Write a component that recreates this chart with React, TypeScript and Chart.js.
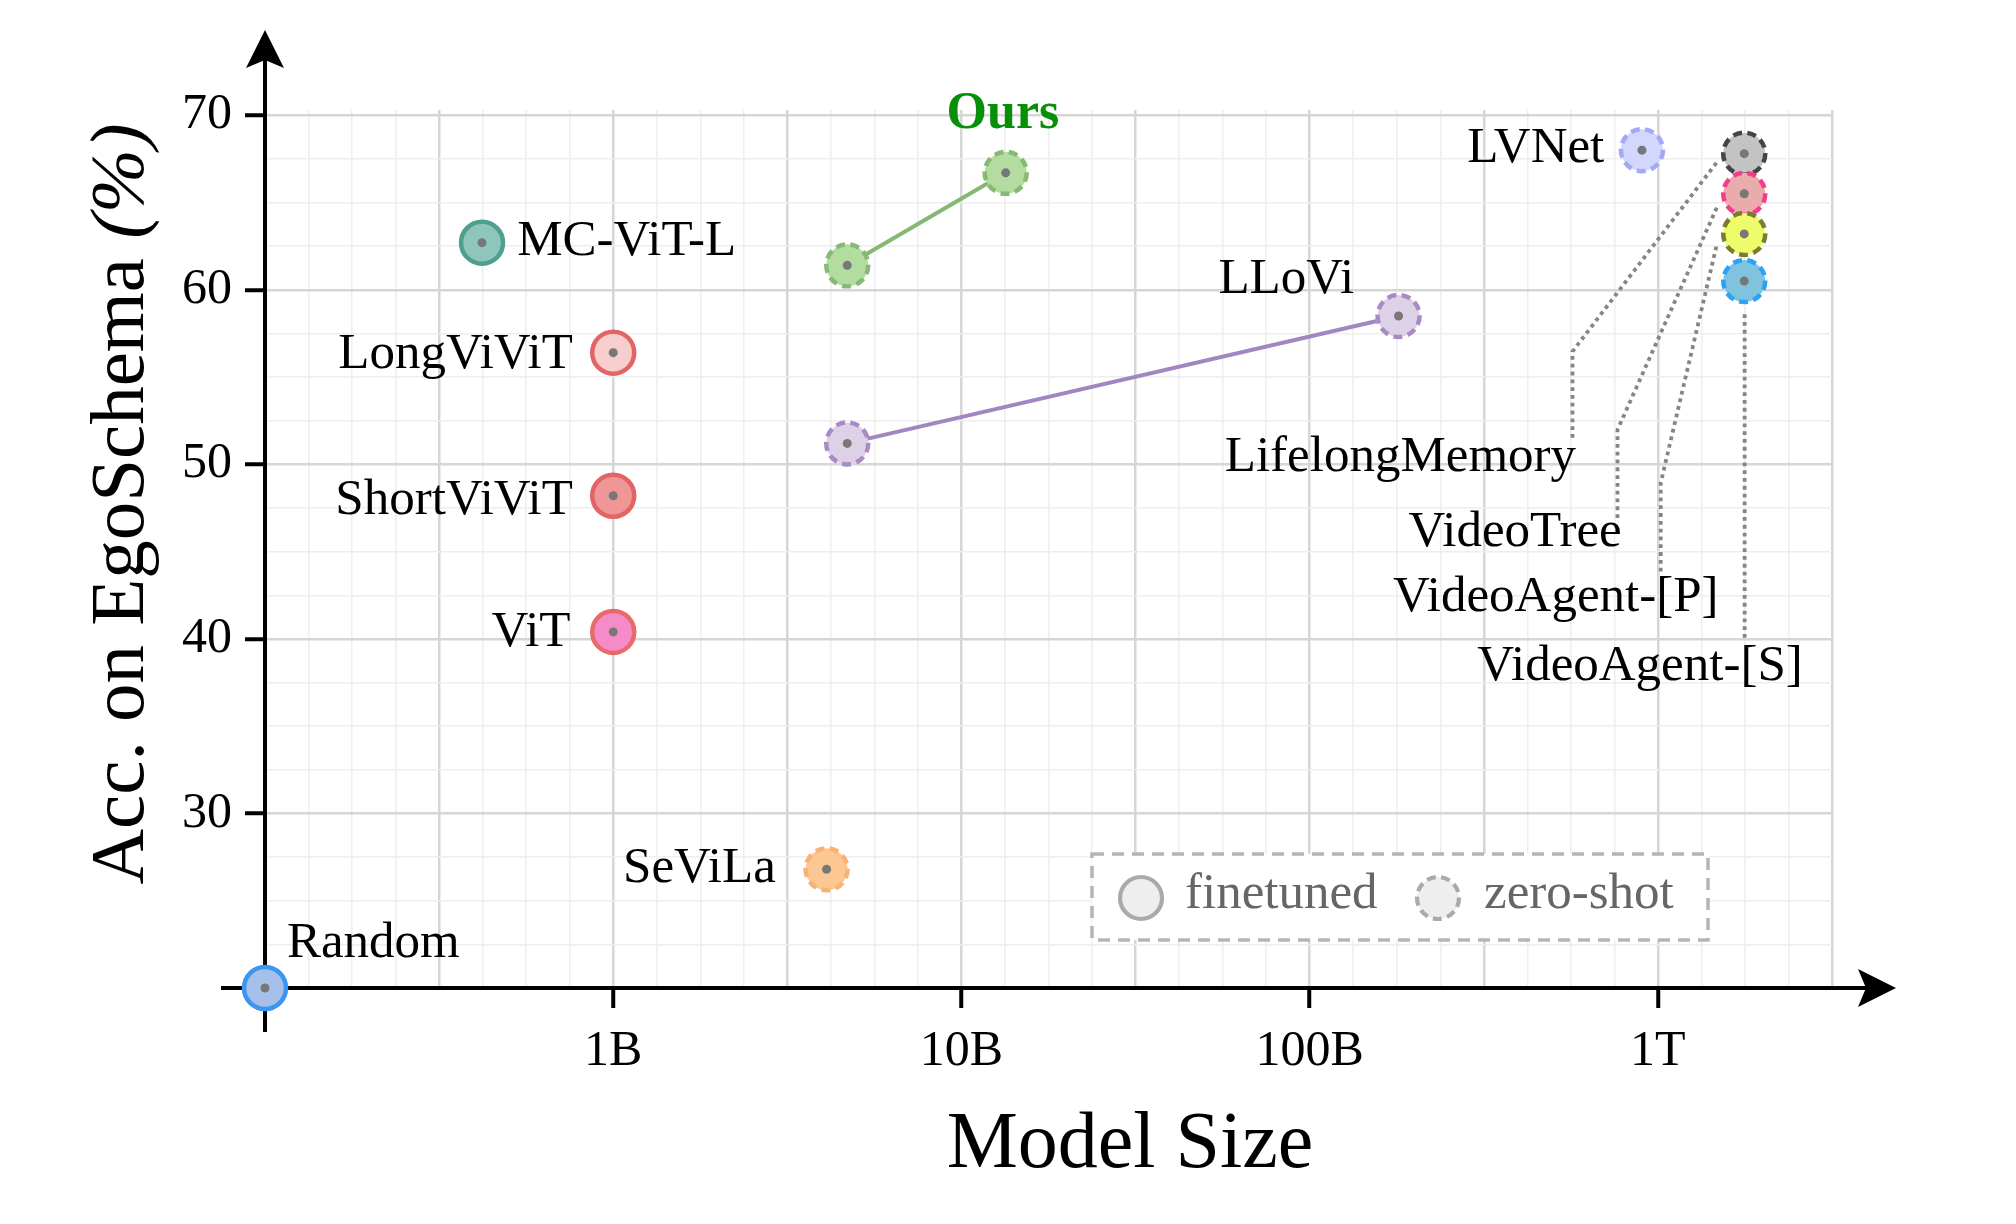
import React, { useEffect, useRef } from 'react';
import { Chart, registerables } from 'chart.js';

Chart.register(...registerables);

const W = 2016;
const H = 1224;
const SERIF = "'Liberation Serif', 'Times New Roman', Times, serif";

// ---------------- data ----------------
const modelNames = [
  'Random', 'MC-ViT-L', 'LongViViT', 'ShortViViT', 'ViT', 'SeViLa',
  'Ours (small)', 'Ours (large)', 'LLoVi (small)', 'LLoVi (large)', 'LVNet',
  'LifelongMemory', 'VideoTree', 'VideoAgent-[P]', 'VideoAgent-[S]',
];
// model size in billions of parameters
const modelSizeB = [0.1, 0.42, 1, 1, 1, 4.1, 4.7, 13.4, 4.7, 180, 900, 1770, 1770, 1770, 1770];
// accuracy on EgoSchema (%)
const accuracy = [20.0, 62.7, 56.4, 48.2, 40.4, 26.8, 61.4, 66.7, 51.2, 58.5, 68.0, 67.8, 65.5, 63.2, 60.5];
const isZeroShot = [false, false, false, false, false, true, true, true, true, true, true, true, true, true, true];

// styles
const markerFill = [
  '#a6c0ea', '#8fc6bc', '#f7cdcd', '#ef9696', '#f68bc9', '#fcc792',
  '#b3dca0', '#b3dca0', '#ddd1e7', '#ddd1e7', '#d3d6fd',
  '#c3c3c3', '#e9abab', '#eefc6c', '#80c3df',
];
const markerBorder = [
  '#3a95f3', '#4e9f90', '#e26565', '#e26565', '#e86a6a', '#f9b272',
  '#87b975', '#87b975', '#a98ac4', '#a98ac4', '#a3a9f5',
  '#454545', '#f43b8c', '#7c7c30', '#2ba2f5',
];

const connections = [
  { from: 6, to: 7, color: '#86b874' },
  { from: 8, to: 9, color: '#a385c2' },
];

// axes ticks
const xTickValues = [1, 10, 100, 1000];
const xTickLabels = ['1B', '10B', '100B', '1T'];
const yTickValues = [30, 40, 50, 60, 70];

// annotations (data coordinates: size in B, accuracy)
const labelTexts = ['Random', 'MC-ViT-L', 'LongViViT', 'ShortViViT', 'ViT', 'SeViLa', 'LLoVi', 'LVNet', 'LifelongMemory', 'VideoTree', 'VideoAgent-[P]', 'VideoAgent-[S]'];
const labelAnchorX = [0.1156, 0.53, 0.766, 0.766, 0.754, 2.93, 54.7, 701.5, 582, 787, 1493, 2606];
const labelAnchorY = [21.78, 62.0, 55.53, 47.16, 39.58, 26.07, 59.81, 67.3, 49.59, 45.31, 41.58, 37.63];
const labelAlign: CanvasTextAlign[] = ['left', 'left', 'right', 'right', 'right', 'right', 'left', 'right', 'right', 'right', 'right', 'right'];
const oursLabel = { text: 'Ours', x: 13.15, y: 69.28 };

const leaderPaths: number[][][] = [
  [[568.5, 51.52], [568.5, 56.46], [1476, 67.3]],
  [[765.6, 46.93], [765.6, 51.98], [1489, 64.87]],
  [[1019, 43.86], [1019, 48.94], [1476, 62.58]],
  [[1775, 40.06], [1775, 58.68]],
];

// grid positions: 8 subdivisions per decade (x), every 2.5 (y)
const xGrid: number[] = Array.from({ length: 37 }, (_, k) => Math.pow(10, -1 + k / 8));
const yGrid: number[] = Array.from({ length: 21 }, (_, k) => 20 + 2.5 * k);

const MAJOR = '#d6d6d6';
const MINOR = '#eeeeee';

const sameLog = (a: number, b: number) => Math.abs(Math.log10(a) - Math.log10(b)) < 1e-6;

const overlayPlugin = {
  id: 'overlay',
  beforeDatasetsDraw(chart: any) {
    const { ctx, chartArea: ca, scales } = chart;
    const xs = scales.x;
    const ys = scales.y;
    // leader lines
    ctx.save();
    ctx.strokeStyle = '#858585';
    ctx.lineWidth = 3.8;
    ctx.setLineDash([3.8, 4]);
    leaderPaths.forEach((path) => {
      ctx.beginPath();
      path.forEach(([vx, vy], j) => {
        const px = xs.getPixelForValue(vx);
        const py = ys.getPixelForValue(vy);
        if (j === 0) ctx.moveTo(px, py);
        else ctx.lineTo(px, py);
      });
      ctx.stroke();
    });
    ctx.restore();

    // axes with arrows
    ctx.save();
    ctx.strokeStyle = '#000';
    ctx.fillStyle = '#000';
    ctx.lineWidth = 4;
    const ox = ca.left;
    const oy = ca.bottom;
    const xTip = ca.right + 64;
    const yTip = ca.top - 80;
    ctx.beginPath();
    ctx.moveTo(ox - 44, oy);
    ctx.lineTo(xTip - 20, oy);
    ctx.moveTo(ox, oy + 44);
    ctx.lineTo(ox, yTip + 20);
    ctx.stroke();
    ctx.beginPath();
    ctx.moveTo(xTip, oy);
    ctx.lineTo(xTip - 38, oy - 19);
    ctx.lineTo(xTip - 30, oy);
    ctx.lineTo(xTip - 38, oy + 19);
    ctx.closePath();
    ctx.fill();
    ctx.beginPath();
    ctx.moveTo(ox, yTip);
    ctx.lineTo(ox - 19, yTip + 38);
    ctx.lineTo(ox, yTip + 30);
    ctx.lineTo(ox + 19, yTip + 38);
    ctx.closePath();
    ctx.fill();
    ctx.restore();
  },
  beforeDatasetDraw(chart: any, args: any) {
    const ds = chart.data.datasets[args.index];
    chart.ctx.save();
    chart.ctx.setLineDash(ds.markerDash || []);
  },
  afterDatasetDraw(chart: any) {
    chart.ctx.restore();
  },
  afterDatasetsDraw(chart: any) {
    const { ctx, chartArea: ca, scales } = chart;
    const xs = scales.x;
    const ys = scales.y;
    ctx.save();
    // point labels
    ctx.fillStyle = '#000';
    ctx.font = `51px ${SERIF}`;
    ctx.textBaseline = 'alphabetic';
    labelTexts.forEach((t, i) => {
      ctx.textAlign = labelAlign[i];
      ctx.fillText(t, xs.getPixelForValue(labelAnchorX[i]), ys.getPixelForValue(labelAnchorY[i]));
    });
    ctx.font = `bold 52px ${SERIF}`;
    ctx.fillStyle = '#088f08';
    ctx.textAlign = 'center';
    ctx.fillText(oursLabel.text, xs.getPixelForValue(oursLabel.x), ys.getPixelForValue(oursLabel.y));

    // legend
    const lx = ca.left + 827;
    const ly = ca.bottom - 134;
    const lw = 616;
    const lh = 86;
    ctx.fillStyle = '#fff';
    ctx.fillRect(lx, ly, lw, lh);
    ctx.strokeStyle = '#b5b5b5';
    ctx.lineWidth = 3.5;
    ctx.setLineDash([12, 8]);
    ctx.strokeRect(lx, ly, lw, lh);
    const items = [
      { text: 'finetuned', cx: lx + 49, tx: lx + 93, dash: [] as number[] },
      { text: 'zero-shot', cx: lx + 346, tx: lx + 392, dash: [9, 5.5] },
    ];
    items.forEach((it) => {
      ctx.beginPath();
      ctx.setLineDash(it.dash);
      ctx.arc(it.cx, ly + 44, 21, 0, Math.PI * 2);
      ctx.fillStyle = '#eeeeee';
      ctx.fill();
      ctx.strokeStyle = '#aaaaaa';
      ctx.lineWidth = 4.2;
      ctx.stroke();
      ctx.setLineDash([]);
      ctx.fillStyle = '#666666';
      ctx.font = `51px ${SERIF}`;
      ctx.textAlign = 'left';
      ctx.textBaseline = 'alphabetic';
      ctx.fillText(it.text, it.tx, ly + 54);
    });

    // axis titles
    ctx.fillStyle = '#000';
    ctx.font = `80px ${SERIF}`;
    ctx.textAlign = 'center';
    ctx.fillText('Model Size', ca.left + 865, ca.bottom + 179);

    ctx.translate(143, 504);
    ctx.rotate(-Math.PI / 2);
    ctx.textAlign = 'left';
    const normal = 'Acc. on EgoSchema ';
    const ital = '(%)';
    ctx.font = `77px ${SERIF}`;
    const w1 = ctx.measureText(normal).width;
    ctx.font = `italic 77px ${SERIF}`;
    const w2 = ctx.measureText(ital).width;
    const start = -(w1 + w2) / 2;
    ctx.font = `77px ${SERIF}`;
    ctx.fillText(normal, start, 0);
    ctx.font = `italic 77px ${SERIF}`;
    ctx.fillText(ital, start + w1, 0);
    ctx.restore();
  },
};

function buildDatasets() {
  const datasets: any[] = [];
  connections.forEach((c) => {
    datasets.push({
      label: `${modelNames[c.from]} - ${modelNames[c.to]}`,
      data: [
        { x: modelSizeB[c.from], y: accuracy[c.from] },
        { x: modelSizeB[c.to], y: accuracy[c.to] },
      ],
      showLine: true,
      borderColor: c.color,
      borderWidth: 4,
      pointRadius: 0,
      pointHoverRadius: 0,
      fill: false,
      clip: false,
      order: 500,
    });
  });
  modelNames.forEach((name, i) => {
    datasets.push({
      label: name,
      data: [{ x: modelSizeB[i], y: accuracy[i] }],
      backgroundColor: markerFill[i],
      borderColor: markerBorder[i],
      borderWidth: 4.5,
      pointRadius: 21,
      pointHoverRadius: 21,
      pointStyle: 'circle',
      clip: false,
      order: 100 - i,
      markerDash: isZeroShot[i] ? [9, 5.5] : [],
    });
  });
  datasets.push({
    label: 'centers',
    data: modelNames.map((_, i) => ({ x: modelSizeB[i], y: accuracy[i] })),
    backgroundColor: '#777777',
    borderWidth: 0,
    pointRadius: 4.5,
    pointHoverRadius: 4.5,
    clip: false,
    order: -10,
  });
  return datasets;
}

export default function App() {
  const ref = useRef<HTMLCanvasElement | null>(null);
  useEffect(() => {
    const canvas = ref.current;
    if (!canvas) return;
    const chart = new Chart(canvas, {
      type: 'scatter',
      data: { datasets: buildDatasets() },
      plugins: [overlayPlugin],
      options: {
        responsive: false,
        animation: false,
        devicePixelRatio: 1,
        events: [],
        layout: { padding: { left: 0, top: 110, right: 184, bottom: 0 } },
        plugins: {
          legend: { display: false },
          tooltip: { enabled: false },
        },
        scales: {
          x: {
            type: 'logarithmic',
            min: 0.1,
            max: Math.pow(10, 3.5),
            afterBuildTicks: (s: any) => {
              s.ticks = xGrid.map((v) => ({ value: v }));
            },
            afterFit: (s: any) => {
              s.height = 236;
            },
            border: { display: false },
            grid: {
              color: (c: any) => (c.index % 4 === 0 ? MAJOR : MINOR),
              lineWidth: (c: any) => (c.index % 4 === 0 ? 2.5 : 1.5),
              drawTicks: true,
              tickLength: 20,
              tickWidth: 4,
              tickColor: (c: any) =>
                c.tick && xTickValues.some((t) => sameLog(t, c.tick.value)) ? '#000' : 'rgba(0,0,0,0)',
            },
            ticks: {
              autoSkip: false,
              maxRotation: 0,
              minRotation: 0,
              padding: 14,
              color: '#000',
              font: { family: SERIF, size: 50 },
              callback: (v: any) => {
                const idx = xTickValues.findIndex((t) => sameLog(t, Number(v)));
                return idx >= 0 ? xTickLabels[idx] : '';
              },
            },
          },
          y: {
            type: 'linear',
            min: 20,
            max: 70.3,
            afterBuildTicks: (s: any) => {
              s.ticks = yGrid.map((v) => ({ value: v }));
            },
            afterFit: (s: any) => {
              s.width = 265;
            },
            border: { display: false },
            grid: {
              color: (c: any) => (c.index % 4 === 0 ? MAJOR : MINOR),
              lineWidth: (c: any) => (c.index % 4 === 0 ? 2.5 : 1.5),
              drawTicks: true,
              tickLength: 20,
              tickWidth: 4,
              tickColor: (c: any) =>
                c.tick && yTickValues.includes(c.tick.value) ? '#000' : 'rgba(0,0,0,0)',
            },
            ticks: {
              autoSkip: false,
              padding: 13,
              color: '#000',
              font: { family: SERIF, size: 50 },
              callback: (v: any) => (yTickValues.includes(Number(v)) ? String(v) : ''),
            },
          },
        },
      } as any,
    });
    return () => chart.destroy();
  }, []);
  return (
    <div style={{ position: 'absolute', left: 0, top: 0, width: W, height: H, background: '#fff' }}>
      <canvas ref={ref} width={W} height={H} style={{ width: W, height: H, display: 'block' }} />
    </div>
  );
}
